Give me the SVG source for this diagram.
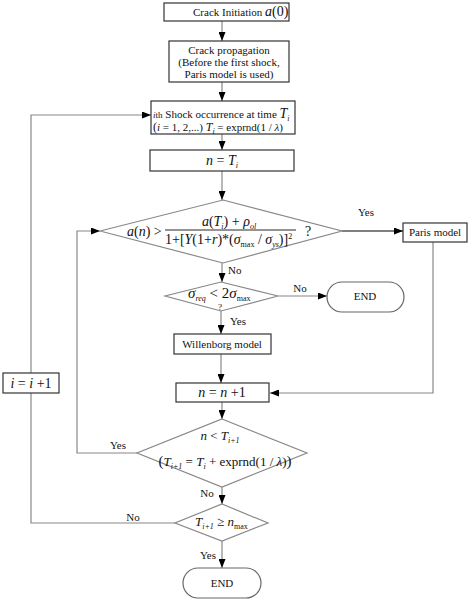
<svg xmlns="http://www.w3.org/2000/svg" width="474" height="601" viewBox="0 0 474 601">
<defs>
<marker id="arr" markerUnits="userSpaceOnUse" markerWidth="9" markerHeight="7" refX="9" refY="3.5" orient="auto"><path d="M0,0 L9,3.5 L0,7 z" fill="#000"/></marker>
<style>
.box{fill:#fff;stroke:#333;stroke-width:1.2}
.dia{fill:#fff;stroke:#888;stroke-width:1.2}
.con{fill:none;stroke:#888;stroke-width:1.2}
.arr{marker-end:url(#arr)}
text{font-family:"Liberation Serif","Times New Roman",serif;fill:#111;font-size:11px}
.c{text-anchor:middle}
.m{font-size:14px}
.i{font-style:italic}
.s{font-size:8px}
</style>
</defs>
<rect width="474" height="601" fill="#fff"/>
<g id="connectors">
<path class="con arr" d="M222,21 V41"/>
<path class="con arr" d="M222,82 V101"/>
<path class="con arr" d="M222,134 V150"/>
<path class="con arr" d="M222,171 V200"/>
<path class="con arr" d="M342,231 H403" style="stroke:#000"/>
<path class="con arr" d="M433,242 V393 H270"/>
<path class="con arr" d="M222,263 V282"/>
<path class="con arr" d="M278,296 H327"/>
<path class="con arr" d="M221,311 V334"/>
<path class="con arr" d="M221,354 V383"/>
<path class="con arr" d="M222,402 V419"/>
<path class="con arr" d="M137,453 H77 V231 H100"/>
<path class="con arr" d="M222,487 V504"/>
<path class="con arr" d="M175,523 H31 V115 H151"/>
<path class="con arr" d="M222,541 V568"/>
<text x="366" y="216" class="c">Yes</text>
<text x="228" y="274">No</text>
<text x="300" y="292" class="c">No</text>
<text x="230" y="325">Yes</text>
<text x="118" y="449" class="c">Yes</text>
<text x="207" y="497" class="c">No</text>
<text x="133" y="521" class="c">No</text>
<text x="208" y="559" class="c">Yes</text>
</g>
<g id="n1">
<rect class="box" x="164" y="3" width="125" height="18"/>
<text x="193" y="16">Crack Initiation <tspan class="m i">a</tspan><tspan class="m">(0)</tspan></text>
</g>
<g id="n2">
<rect class="box" x="169" y="41" width="120" height="41"/>
<text x="229" y="54" class="c">Crack propagation</text>
<text x="229" y="66" class="c">(Before the first shock,</text>
<text x="229" y="78" class="c">Paris model is used)</text>
</g>
<g id="n3">
<rect class="box" x="151" y="101" width="144" height="33"/>
<text x="153" y="118"><tspan class="i" font-size="9">i</tspan><tspan font-size="9">th</tspan> Shock occurrence at time <tspan class="m i">T</tspan><tspan class="s i" dy="3">i</tspan></text>
<text x="153" y="131"><tspan font-size="12">(</tspan><tspan class="i">i</tspan> = 1, 2,...) <tspan class="i" font-size="12">T</tspan><tspan class="s i" dy="3">i</tspan><tspan dy="-3"> = exprnd(1 / </tspan><tspan class="i">λ</tspan>)</text>
</g>
<g id="n4">
<rect class="box" x="150" y="150" width="144" height="21"/>
<text x="222" y="165" class="c m"><tspan class="i">n</tspan> = <tspan class="i">T</tspan><tspan class="s i" dy="3">i</tspan></text>
</g>
<g id="d1">
<polygon class="dia" points="223,200 342,231 223,263 100,231"/>
<text x="127" y="236" class="m"><tspan class="i">a</tspan>(<tspan class="i">n</tspan>) &gt;</text>
<text x="229" y="226" class="c m"><tspan class="i">a</tspan>(<tspan class="i">T</tspan><tspan class="s i" dy="3">i</tspan><tspan dy="-3">) + </tspan><tspan class="i">ρ</tspan><tspan class="s i" dy="3">ol</tspan></text>
<line x1="165" y1="230" x2="296" y2="230" stroke="#111" stroke-width="0.9"/>
<text x="165" y="244" style="font-size:14px">1+[<tspan class="i">Y</tspan>(1+<tspan class="i">r</tspan>)*(<tspan class="i">σ</tspan><tspan class="s" dy="3">max</tspan><tspan dy="-3"> / </tspan><tspan class="i">σ</tspan><tspan class="s i" dy="3">ys</tspan><tspan dy="-3">)]</tspan><tspan class="s" dy="-5">2</tspan></text>
<text x="305" y="236" class="m">?</text>
</g>
<g id="paris">
<rect class="box" x="403" y="223" width="64" height="19"/>
<text x="435" y="236" class="c">Paris model</text>
</g>
<g id="d2">
<polygon class="dia" points="221,282 278,296 221,311 165,296"/>
<text x="188" y="298" style="font-size:15px"><tspan class="i">σ</tspan><tspan class="s i" dy="3">req</tspan><tspan dy="-3"> &lt; 2</tspan><tspan class="i">σ</tspan><tspan class="s" dy="3">max</tspan></text>
<text x="220" y="310" class="c" style="font-size:9px">?</text>
</g>
<g id="end1">
<rect class="box" x="327" y="282" width="77" height="30" rx="15" style="stroke:#666"/>
<text x="365" y="300" class="c">END</text>
</g>
<g id="willenborg">
<rect class="box" x="174" y="334" width="97" height="20"/>
<text x="222" y="348" class="c">Willenborg model</text>
</g>
<g id="n5">
<rect class="box" x="176" y="383" width="93" height="19"/>
<text x="222" y="397" class="c m"><tspan class="i">n</tspan> = <tspan class="i">n</tspan> +1</text>
</g>
<g id="inc">
<rect class="box" x="3" y="373" width="56" height="20"/>
<text x="31" y="388" class="c m"><tspan class="i">i</tspan> = <tspan class="i">i</tspan> +1</text>
</g>
<g id="d3">
<polygon class="dia" points="222,419 307,453 222,487 137,453"/>
<text x="220" y="440" class="c" style="font-size:13px"><tspan class="i">n</tspan> &lt; <tspan class="i">T</tspan><tspan class="s i" dy="3">i+1</tspan></text>
<text x="225" y="466" class="c" style="font-size:13px"><tspan font-size="15">(</tspan><tspan class="i">T</tspan><tspan class="s i" dy="3">i+1</tspan><tspan dy="-3"> = </tspan><tspan class="i">T</tspan><tspan class="s i" dy="3">i</tspan><tspan dy="-3"> + exprnd(1 / </tspan><tspan class="i">λ</tspan>)<tspan font-size="15">)</tspan></text>
</g>
<g id="d4">
<polygon class="dia" points="222,504 268,523 222,541 175,523"/>
<text x="195" y="526" style="font-size:13px"><tspan class="i">T</tspan><tspan class="s i" dy="3">i+1</tspan><tspan dy="-3"> ≥ </tspan><tspan class="i">n</tspan><tspan class="s" dy="3">max</tspan></text>
</g>
<g id="end2">
<rect class="box" x="183" y="568" width="78" height="30" rx="15" style="stroke:#666"/>
<text x="222" y="587" class="c">END</text>
</g>
</svg>
